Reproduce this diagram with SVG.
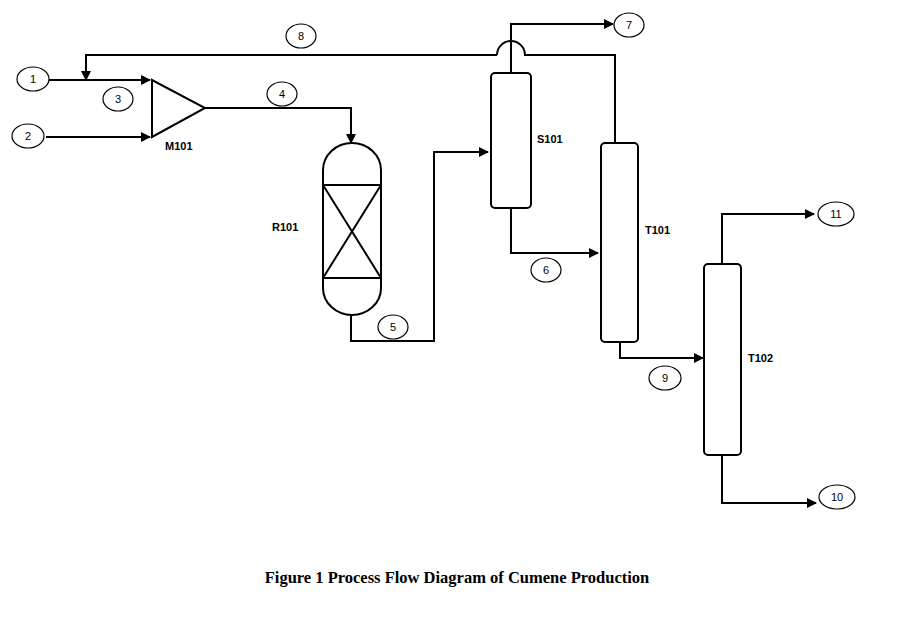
<svg xmlns="http://www.w3.org/2000/svg" width="901" height="624" viewBox="0 0 901 624">
<style>
.l{fill:none;stroke:#000;stroke-width:2}
.v{fill:#fff;stroke:#000;stroke-width:2}
.c{fill:#fff;stroke:#000;stroke-width:1.2}
.n{font-family:"Liberation Sans",Arial,sans-serif;font-size:11px;text-anchor:middle}
.b{font-family:"Liberation Sans",Arial,sans-serif;font-size:11px;font-weight:bold}
</style>
<defs><marker id="a" viewBox="0 0 10 10" refX="9" refY="5" markerWidth="5" markerHeight="5" orient="auto"><path d="M0,0L10,5L0,10z"/></marker></defs>
<rect width="901" height="624" fill="#fff"/>
<g id="connectors">
<path class="l" d="M49,80H150" marker-end="url(#a)"/>
<path class="l" d="M46,137H150" marker-end="url(#a)"/>
<path class="l" d="M497,55H86V80" marker-end="url(#a)"/>
<path class="l" d="M497,55a14,14 0 0 1 28,0H615V143"/>
<path class="l" d="M205,108H351V143" marker-end="url(#a)"/>
<path class="l" d="M351,315V341H434V152H488" marker-end="url(#a)"/>
<path class="l" d="M511,73V24H613" marker-end="url(#a)"/>
<path class="l" d="M511,208V253H598" marker-end="url(#a)"/>
<path class="l" d="M620,342V358H703" marker-end="url(#a)"/>
<path class="l" d="M722,264V214H814" marker-end="url(#a)"/>
<path class="l" d="M722,455V503H816" marker-end="url(#a)"/>
</g>
<g id="M101"><path class="v" d="M152,80L152,137L205,108Z"/><text class="b" x="165" y="150">M101</text></g>
<g id="R101"><path class="v" d="M323,170A29,27 0 0 1 381,170V288A29,27 0 0 1 323,288Z"/><rect class="v" x="323" y="185" width="58" height="93"/><path class="l" d="M323,185L381,278M381,185L323,278"/><text class="b" x="272" y="231">R101</text></g>
<g id="S101"><rect class="v" x="491" y="73" width="40" height="135" rx="4"/><text class="b" x="537" y="143">S101</text></g>
<g id="T101"><rect class="v" x="601" y="143" width="37" height="199" rx="4"/><text class="b" x="645" y="234">T101</text></g>
<g id="T102"><rect class="v" x="704" y="264" width="37" height="191" rx="4"/><text class="b" x="748" y="362">T102</text></g>
<g id="s1"><ellipse class="c" cx="33" cy="79" rx="16" ry="12"/><text class="n" x="33" y="83">1</text></g>
<g id="s2"><ellipse class="c" cx="28" cy="136" rx="16" ry="12"/><text class="n" x="28" y="140">2</text></g>
<g id="s3"><ellipse class="c" cx="118" cy="99" rx="15" ry="12"/><text class="n" x="118" y="103">3</text></g>
<g id="s4"><ellipse class="c" cx="282" cy="94" rx="15" ry="12"/><text class="n" x="282" y="98">4</text></g>
<g id="s5"><ellipse class="c" cx="393" cy="327" rx="15" ry="12"/><text class="n" x="393" y="331">5</text></g>
<g id="s6"><ellipse class="c" cx="546" cy="270" rx="15" ry="12"/><text class="n" x="546" y="274">6</text></g>
<g id="s7"><ellipse class="c" cx="629" cy="25" rx="15" ry="12"/><text class="n" x="629" y="29">7</text></g>
<g id="s8"><ellipse class="c" cx="301" cy="36" rx="15" ry="12"/><text class="n" x="301" y="40">8</text></g>
<g id="s9"><ellipse class="c" cx="665" cy="378" rx="16" ry="12"/><text class="n" x="665" y="382">9</text></g>
<g id="s10"><ellipse class="c" cx="837" cy="497" rx="18" ry="12"/><text class="n" x="837" y="501">10</text></g>
<g id="s11"><ellipse class="c" cx="836" cy="214" rx="18" ry="12"/><text class="n" x="836" y="218">11</text></g>
<text x="457" y="583" font-family="Liberation Serif,'Times New Roman',serif" font-size="16.5" font-weight="bold" text-anchor="middle">Figure 1 Process Flow Diagram of Cumene Production</text>
</svg>
